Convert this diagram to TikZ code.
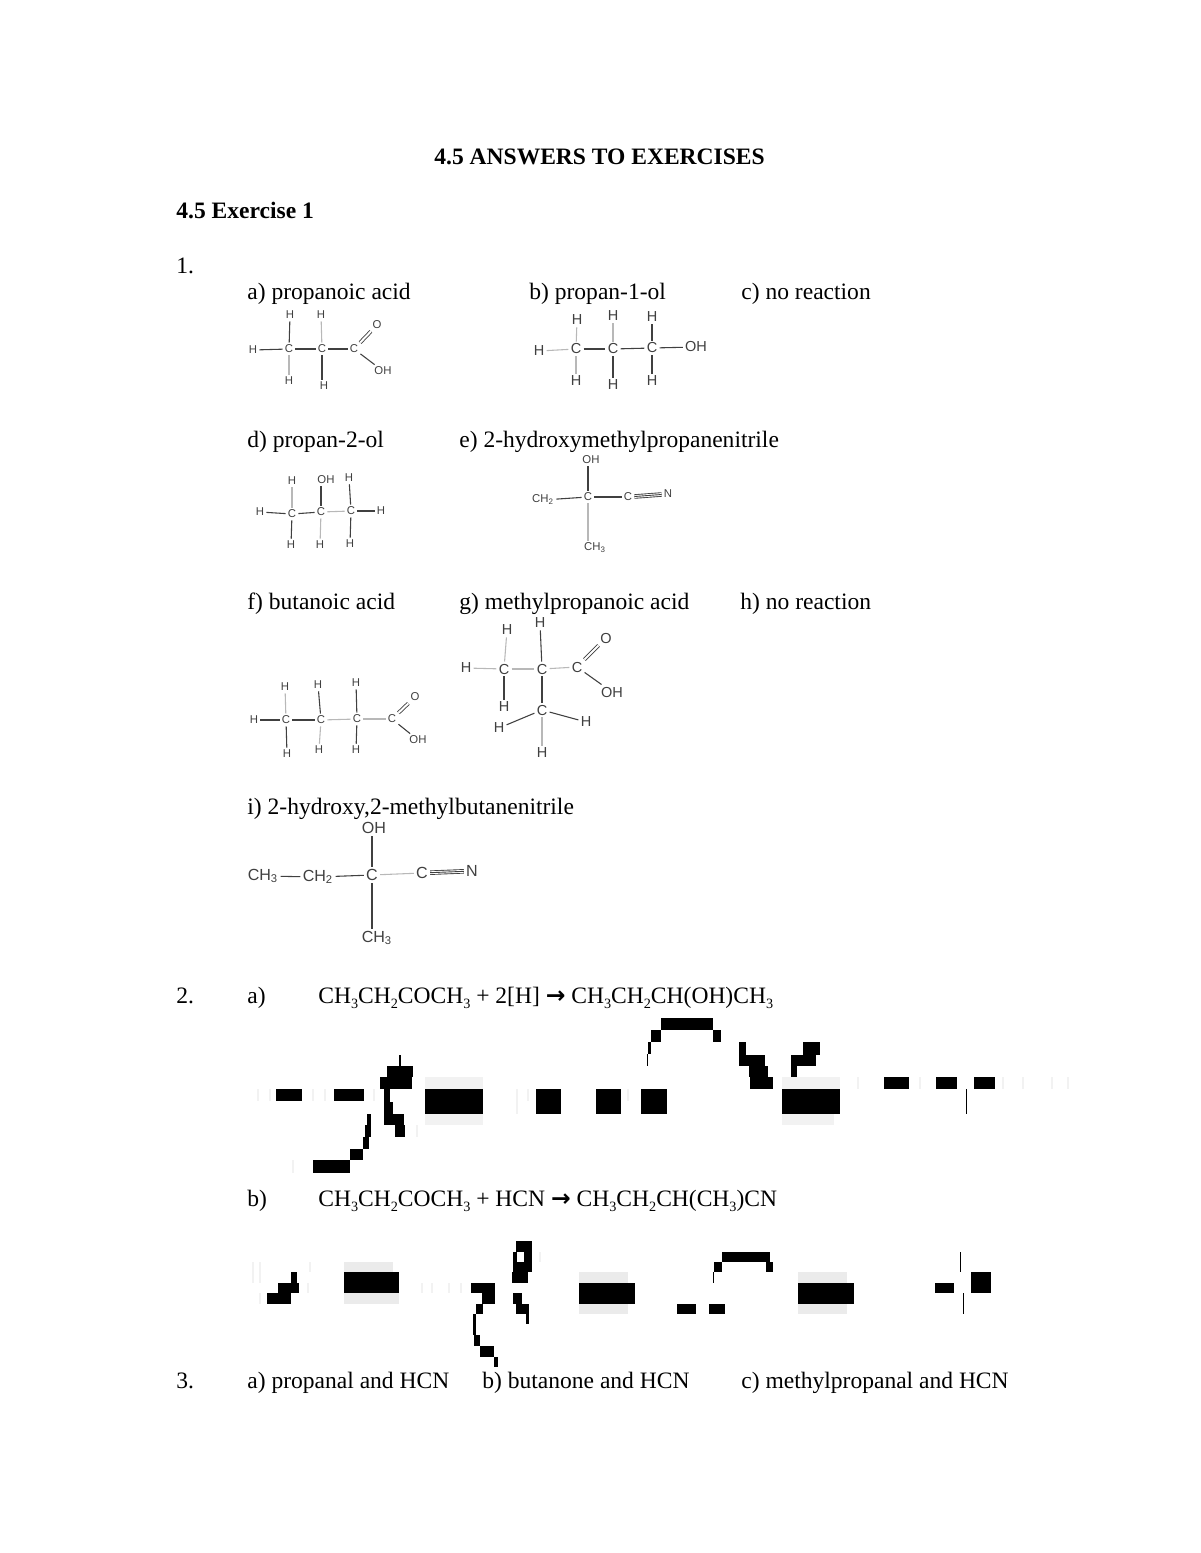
\documentclass[tikz,border=0pt]{standalone}
\usepackage{fontspec}
\setmainfont{Liberation Serif}
\setsansfont{Liberation Sans}
\newfontfamily\arrowfont{DejaVu Sans}
\usetikzlibrary{positioning}
\newcommand{\ssb}[1]{\raisebox{-0.25em}{\fontsize{7.25}{8}\selectfont #1}}
\definecolor{mdark}{rgb}{0.25, 0.25, 0.25}
\definecolor{mpale}{rgb}{0.72, 0.72, 0.72}
\definecolor{mhalo}{rgb}{0.95, 0.95, 0.95}
\definecolor{mhalob}{rgb}{0.92, 0.92, 0.92}
\tikzset{line/.style = {anchor=base west, inner sep=0pt, font=\fontsize{12}{14}\selectfont},
         atomsm/.style = {inner sep=1pt, text=mdark, font=\sffamily\fontsize{5.8}{7}\selectfont},
         atombg/.style = {inner sep=1pt, text=mdark, font=\sffamily\fontsize{7.4}{9}\selectfont},
         bond/.style = {line width=0.55pt, mdark},
         palebond/.style = {line width=0.55pt, mpale},
         dbl/.style = {line width=0.45pt, mdark, double, double distance=1pt}}
\begin{document}
\begin{tikzpicture}[x=0.51pt, y=-0.51pt]
    \useasboundingbox (0, 0) rectangle (1200, 1553);

    % text lines
    \foreach \name/\x/\y/\txt in {
        ex/176/219/{\bfseries 4.5 Exercise 1},
        one/176/273/1.,
        la/247/299/a) propanoic acid, lb/529/299/b) propan-1-ol, lc/741/299/c) no reaction,
        ld/247/447/d) propan-2-ol, le/459/447/e) 2-hydroxymethylpropanenitrile,
        lf/247/609/f) butanoic acid, lg/459/609/g) methylpropanoic acid, lh/740/609/h) no reaction,
        li/247/814/{i) 2-hydroxy,2-methylbutanenitrile},
        two/176/1003/2., twoa/247/1003/a), twob/247/1206/b),
        three/176/1388/3.,
        tha/247/1388/a) propanal and HCN, thb/482/1388/b) butanone and HCN, thc/741/1388/c) methylpropanal and HCN}
        \node [line] (\name) at (\x, \y) {\txt};
    \node [line] (title) at (434, 165) {\bfseries 4.5 ANSWERS TO EXERCISES};
    \node [line] (eqa) at (318, 1003) {CH\ssb{3}CH\ssb{2}COCH\ssb{3} + 2[H] {\arrowfont\bfseries →} CH\ssb{3}CH\ssb{2}CH(OH)CH\ssb{3}};
    \node [line] (eqb) at (318, 1206) {CH\ssb{3}CH\ssb{2}COCH\ssb{3} + HCN {\arrowfont\bfseries →} CH\ssb{3}CH\ssb{2}CH(CH\ssb{3})CN};

    % a) propanoic acid
    \foreach \name/\x/\y/\txt in {aA/290/315/H, aB/321/315/H, aC/253/350/H, aD/289/349/C, aE/322/349/C, aF/354/349/C,
        aG/377/325/O, aH/383/371/OH, aI/289/381/H, aJ/324/386/H}
        \node [atomsm] (\name) at (\x, \y) {\txt};
    \foreach \a/\b in {aC/aD, aD/aE, aE/aF, aD/aA, aF/aH}
        \draw [bond] (\a) -- (\b);
    \foreach \a/\b in {aD/aI, aE/aB}
        \draw [palebond] (\a) -- (\b);
    \draw [bond] (aE) -- (aE |- aJ.north);
    \draw [dbl] (aF) -- (aG);

    % b) propan-1-ol
    \foreach \name/\x/\y/\txt in {bA/577/320/H, bB/613/316/H, bC/652/317/H, bD/539/351/H, bE/576/349/C, bF/613/349/C,
        bG/652/348/C, bH/696/347/OH, bI/576/381/H, bJ/613/385/H, bK/652/381/H}
        \node [atombg] (\name) at (\x, \y) {\txt};
    \foreach \a/\b in {bE/bF, bF/bG, bG/bH, bF/bJ, bG/bC, bG/bK}
        \draw [bond] (\a) -- (\b);
    \foreach \a/\b in {bD/bE, bE/bA, bE/bI, bF/bB}
        \draw [palebond] (\a) -- (\b);

    % d) propan-2-ol
    \foreach \name/\x/\y/\txt in {dA/292/481/H, dB/326/480/OH, dC/349/478/H, dD/260/512/H, dE/292/514/C, dF/321/512/C,
        dG/351/511/C, dH/381/511/H, dI/291/545/H, dJ/320/545/H, dK/350/544/H}
        \node [atomsm] (\name) at (\x, \y) {\txt};
    \foreach \a/\b in {dD/dE, dE/dF, dG/dH, dE/dI, dG/dC, dG/dK}
        \draw [bond] (\a) -- (\b);
    \foreach \a/\b in {dE/dA, dF/dG, dF/dJ}
        \draw [palebond] (\a) -- (\b);
    \draw [bond] (dF) -- (dF |- dB.south);

    % e) nitrile
    \foreach \name/\x/\y/\txt in {eA/591/460/OH, eB/543/500/CH\textsubscript{2}, eC/588/497/C, eD/628/497/C,
        eE/668/494/N, eF/595/548/CH\textsubscript{3}}
        \node [atomsm] (\name) at (\x, \y) {\txt};
    \foreach \a/\b in {eB/eC, eC/eD}
        \draw [bond] (\a) -- (\b);
    \draw [bond] (eC) -- (eC |- eA.south);
    \draw [palebond] (eC) -- (eC |- eF.north);
    \draw [dbl, double distance=1.4pt] (eD) -- (eE);
    \draw [line width=0.45pt, mdark] (eD) -- (eE);

    % f) butanoic acid
    \foreach \name/\x/\y/\txt in {fA/285/687/H, fB/318/685/H, fC/356/683/H, fD/254/720/H, fE/286/720/C, fF/321/720/C,
        fG/357/719/C, fH/392/719/C, fI/415/697/O, fJ/418/740/OH, fK/287/754/H, fL/319/750/H, fM/356/750/H}
        \node [atomsm] (\name) at (\x, \y) {\txt};
    \foreach \a/\b in {fD/fE, fE/fF, fE/fK, fF/fB, fG/fC, fG/fM, fH/fJ}
        \draw [bond] (\a) -- (\b);
    \foreach \a/\b in {fE/fA, fF/fG, fG/fH, fF/fL}
        \draw [palebond] (\a) -- (\b);
    \draw [dbl] (fH) -- (fI);

    % g) methylpropanoic acid
    \foreach \name/\x/\y/\txt in {gA/507/630/H, gB/540/623/H, gC/466/668/H, gD/504/669/C, gE/542/669/C, gF/577/667/C,
        gG/606/638/O, gH/612/692/OH, gI/504/707/H, gJ/542/710/C, gK/499/728/H, gL/586/722/H, gM/542/753/H}
        \node [atombg] (\name) at (\x, \y) {\txt};
    \foreach \a/\b in {gE/gB, gD/gI, gE/gJ, gF/gH, gJ/gK, gJ/gL}
        \draw [bond] (\a) -- (\b);
    \foreach \a/\b in {gC/gD, gD/gE, gE/gF, gD/gA, gJ/gM}
        \draw [palebond] (\a) -- (\b);
    \draw [dbl] (gF) -- (gG);

    % i) butanenitrile
    \foreach \name/\x/\y/\txt in {iA/374/828/OH, iB/263/876/CH\textsubscript{3}, iC/318/877/CH\textsubscript{2}, iD/372/875/C,
        iE/422/873/C, iF/472/871/N, iG/377/938/CH\textsubscript{3}}
        \node [atombg, font=\sffamily\fontsize{8.2}{10}\selectfont] (\name) at (\x, \y) {\txt};
    \foreach \a/\b in {iB/iC, iC/iD}
        \draw [bond] (\a) -- (\b);
    \draw [bond] (iD) -- (iD |- iA.south);
    \draw [bond] (iD) -- (iD |- iG.north);
    \draw [palebond] (iD) -- (iE);
    \draw [dbl, double distance=1.4pt] (iE) -- (iF);
    \draw [line width=0.45pt, mdark] (iE) -- (iF);

    % blocks
    \foreach \xa/\xb/\ya/\yb in {425/483/1077/1089, 425/483/1114/1125, 782/840/1077/1089, 782/834/1114/1125}
        \fill [mhalo] (\xa, \ya) rectangle (\xb, \yb);
    \foreach \xa/\xb/\ya/\yb in {344/393/1262/1272, 344/399/1293/1304, 579/628/1272/1283, 579/628/1304/1314,
        798/847/1272/1283, 798/847/1304/1314}
        \fill [mhalob] (\xa, \ya) rectangle (\xb, \yb);
    \foreach \xx/\ya/\yb in {258/1089/1101, 270/1089/1101, 313/1089/1101, 325/1089/1101, 374/1089/1101, 517/1089/1114,
        528/1089/1101, 628/1089/1101, 293/1160/1173, 417/1125/1137, 858/1077/1089, 920/1077/1089, 1003/1077/1089,
        1023/1077/1089, 1052/1077/1089, 1068/1077/1089, 253/1262/1283, 260/1262/1283, 310/1262/1272, 260/1293/1304,
        308/1283/1293, 422/1283/1293, 432/1283/1293, 449/1283/1293, 461/1283/1293, 540/1252/1262}
        \draw [mhalo, line width=0.6pt] (\xx, \ya) -- (\xx, \yb);
    \foreach \xa/\xb/\ya/\yb in {
        276/302/1089/1101, 334/364/1089/1101, 399/401/1055/1066, 387/413/1066/1077, 380/412/1077/1089,
        384/390/1089/1102, 384/393/1102/1114, 384/404/1114/1125, 395/405/1125/1137,
        425/483/1089/1114, 536/561/1089/1114, 596/621/1089/1114, 641/667/1089/1114,
        313/350/1160/1173, 350/363/1149/1160, 363/369/1137/1149, 365/371/1125/1137, 367/371/1114/1125,
        661/713/1018/1030, 651/661/1030/1042, 713/721/1030/1042, 648/651/1042/1054, 647/648/1054/1066,
        739/746/1042/1055, 739/765/1055/1066, 749/768/1066/1077, 750/773/1077/1089,
        791/816/1055/1066, 803/820/1042/1055, 791/797/1066/1077,
        782/840/1089/1114, 884/909/1077/1089, 936/957/1077/1089, 974/995/1077/1089, 965.5/966.7/1089/1114,
        291/297/1272/1283, 278/299/1283/1293, 267/291/1293/1304,
        344/399/1272/1293, 471/495/1283/1293, 482/495/1293/1304, 476/483/1304/1314, 473/476/1314/1335,
        474/480/1335/1346, 480/494/1346/1357, 494/498/1357/1367,
        516/532/1241/1252, 513/517/1252/1262, 524/532/1252/1262, 513/532/1262/1272, 512/528/1272/1283,
        513/522/1293/1304, 516/529/1304/1314, 526/529/1314/1324,
        579/635/1283/1304, 722/770/1252/1262, 714/722/1262/1272, 766/773/1262/1272, 713/714.3/1272/1283,
        677/696/1304/1314, 709/725/1304/1314, 798/854/1283/1304, 935/954/1283/1293, 971/991/1272/1293,
        960/961.3/1252/1272, 962.7/964/1293/1314}
        \fill (\xa, \ya) rectangle (\xb, \yb);
\end{tikzpicture}
\end{document}
